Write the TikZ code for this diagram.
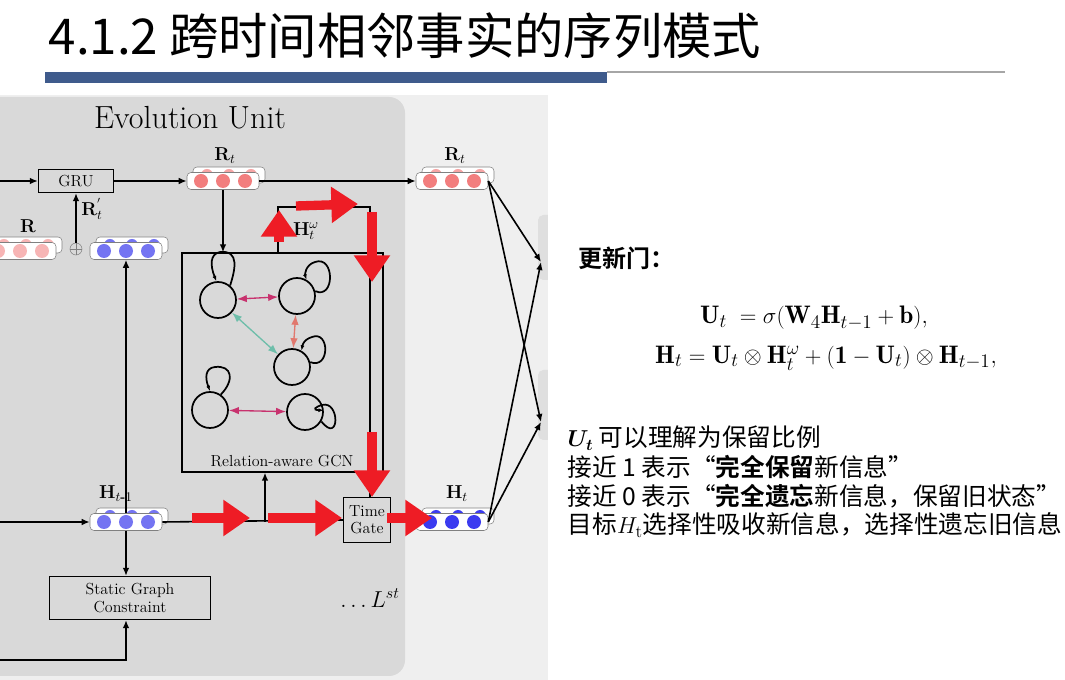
\documentclass[tikz,border=0pt]{standalone}
\usepackage{fontspec}
\usepackage{amsmath}
\newfontfamily\cjk{Noto Sans CJK SC}
\newfontfamily\cjkb{Noto Sans CJK SC Bold}
\usetikzlibrary{arrows.meta,calc}
\definecolor{panel}{HTML}{D9D9D9}
\definecolor{outer}{HTML}{EFEFEF}
\definecolor{titlebar}{HTML}{3F5B8C}
\definecolor{redv}{HTML}{F27E7E}
\definecolor{redvl}{HTML}{F7B5B5}
\definecolor{bluev}{HTML}{7474F2}
\definecolor{bluevd}{HTML}{3B3BF0}
\definecolor{bigred}{HTML}{EE1C25}
\newcommand\embvec[4]{% name, pos, fill, back fill
  \begin{scope}[shift={#2}]
    \draw[gray,fill=white,rounded corners=3] (-30,-14) rectangle (42,2);
    \foreach \dx in {-16,6,28} \fill[#4] (\dx,-6) circle (6);
    \node[draw=gray,fill=white,rounded corners=3,minimum width=54pt,minimum height=12.75pt,inner sep=0] (#1) at (0,0) {};
    \foreach \dx in {-22,0,22} \fill[#3] (\dx,0) circle (7);
  \end{scope}}
\begin{document}
\begin{tikzpicture}[x=0.75pt,y=-0.75pt,
  box/.style={draw,line width=1.2pt,inner sep=0,font=\rmfamily},
  ar/.style={-{Latex[length=6pt,width=5pt]},line width=1.2pt},
  ln/.style={line width=1.2pt},
  big/.style={bigred,line width=7pt,-{Triangle[length=20pt,width=26pt]}},
  gc/.style={circle,draw,line width=1.3pt,minimum size=27pt,inner sep=0},
  lp/.style={line width=1.3pt,-{Latex[length=4pt]}},
  lab/.style={font=\bfseries\fontsize{14}{14}\selectfont},
  cjkt/.style={font=\cjk\fontsize{18.5}{22}\selectfont,anchor=west}]
\useasboundingbox (0,0) rectangle (1065,680);
\fill[white] (0,0) rectangle (1065,680);
% title
\node[anchor=west,font=\cjk\fontsize{37}{44}\selectfont] (title) at (44,36) {4.1.2 跨时间相邻事实的序列模式};
\fill[titlebar] (45,72) rectangle (607,83);
\draw[gray!70,line width=0.8pt] (607,72) -- (1005,72);
% panels
\fill[outer] (0,95) rectangle (548,680);
\fill[gray!25,rounded corners=4] (538,215) rectangle (556,280);
\fill[gray!25,rounded corners=4] (538,370) rectangle (556,440);
\fill[white] (548,95) rectangle (562,680);
\fill[panel,rounded corners=12] (-20,97) rectangle (405,676);
\node[font=\rmfamily\fontsize{24}{28}\selectfont] (evo) at (190,118) {Evolution Unit};
% boxes
\node[box,minimum width=56pt,minimum height=17pt,font=\rmfamily\fontsize{12}{14}\selectfont] (gru) at (76,181) {GRU};
\node[box,minimum width=151pt,minimum height=164pt] (gcn) at (282.5,362.5) {};
\node[font=\rmfamily\fontsize{12}{14}\selectfont] (gcnl) at (282,461) {Relation-aware GCN};
\node[box,minimum width=35pt,minimum height=34pt,align=center,font=\rmfamily\fontsize{12}{13}\selectfont] (tg) at (367,520) {Time\\Gate};
\node[box,minimum width=121pt,minimum height=32pt,align=center,font=\rmfamily\fontsize{12}{13}\selectfont] (sgc) at (130,598) {Static Graph\\Constraint};
% vectors
\embvec{rt}{(223,181)}{redv}{redv!70}
\embvec{rtout}{(452,181)}{redv}{redv!70}
\embvec{r}{(20,251)}{redvl}{redvl}
\embvec{bv}{(126,251)}{bluev}{bluev}
\embvec{hprev}{(126,522)}{bluev}{bluev}
\embvec{ht}{(452,522)}{bluevd}{bluevd}
\node[lab] (rtl) at (225,156) {R$_t$};
\node[lab] (rtoutl) at (455,156) {R$_t$};
\node[lab] (rl) at (28,226) {R};
\node[lab] (hpl) at (116,494) {H$_{t\text{-}1}$};
\node[lab] (htl) at (457,494) {H$_t$};
\node[lab] (rpl) at (92,209) {R$_t^{'}$};
\node[lab] (hwl) at (306,231) {H$_t^{\omega}$};
\node[font=\fontsize{18}{18}\selectfont] (lst) at (370,598) {$\ldots L^{st}$};
\node[circle,draw=gray,inner sep=0,minimum size=9pt,fill=panel] (op) at (76,249) {};
\draw[gray] (op.north)--(op.south) (op.west)--(op.east);
% black connectors
\coordinate (inl) at (0,181);
\draw[ar] (inl) -- (gru);
\draw[ar] (gru) -- (rt.west);
\draw[ar] (rt.east) -- (rtout.west);
\draw[ar] (op.north) -- (gru.south);
\draw[ar] (rt.south) -- (rt.south |- gcn.north);
\draw[ar] (hprev.north) -- (bv.south);
\coordinate (inh) at (0,522);
\draw[ar] (inh) -- (hprev.west);
\draw[ln] (hprev.east) -- (tg.west);
\coordinate (jn) at (265,522);
\draw[ar] (jn) -- (jn |- gcn.south);
\draw[ar] (hprev.south) -- (hprev.south |- sgc.north);
\coordinate (inb) at (0,660);
\draw[ar] (inb) -- (inb -| hprev.south) -- (hprev.south |- sgc.south);
\coordinate (g1) at (278,207); \coordinate (g2) at (370,207);
\draw[ln] (278,253) -- (g1) -- (g2) -- (tg.north -| g2);
\draw[ar] (tg.east) -- (ht.west);
\coordinate (o1) at (541,262); \coordinate (o2) at (541,422);
\draw[ar] (rtout.east) -- (o1);
\draw[ar] (rtout.east) -- (o2);
\draw[ar] (ht.east) -- (o1);
\draw[ar] (ht.east) -- (o2);
% GCN graph
\node[gc] (n1) at (218,300) {};
\node[gc] (n2) at (297,296) {};
\node[gc] (n3) at (292,367) {};
\node[gc] (n4) at (210,410) {};
\node[gc] (n5) at (305,412) {};
\draw[lp] (n1.50) .. controls (235,270) and (240,250) .. (220,252) .. controls (210,254) and (210,265) .. (n1.95);
\draw[lp] (n2.15) .. controls (335,300) and (335,255) .. (315,262) .. controls (305,265) and (305,275) .. (n2.60);
\draw[lp] (n3.15) .. controls (330,370) and (330,330) .. (312,337) .. controls (302,340) and (302,348) .. (n3.60);
\draw[lp] (n4.55) .. controls (235,380) and (232,365) .. (215,367) .. controls (205,368) and (205,378) .. (n4.90);
\draw[lp] (n5.-30) .. controls (340,445) and (340,400) .. (322,405) .. controls (315,407) and (312,410) .. (n5.5);
\draw[<->,>=Latex,line width=1pt,color={rgb,255:red,200;green,50;blue,110}] (n1) -- (n2);
\draw[<->,>=Latex,line width=1pt,color={rgb,255:red,200;green,50;blue,110}] (n4) -- (n5);
\draw[<->,>=Latex,line width=1pt,color={rgb,255:red,110;green,190;blue,170}] (n1) -- (n3);
\draw[<->,>=Latex,line width=1pt,color={rgb,255:red,225;green,120;blue,110}] (n2) -- (n3);
% big red arrows
\draw[big] (192,518) -- (250,518);
\draw[big] (268,518) -- (342,518);
\draw[big] (387,518) -- (432,518);
\draw[big] (279,242) -- (279,210);
\draw[big] (296,206) -- (358,204);
\draw[big] (372,212) -- (372,282);
\draw[big] (372,432) -- (372,497);
% right text
\node[anchor=west,font=\cjkb\fontsize{18}{22}\selectfont] (upd) at (574,258) {更新门：};
\node[font=\fontsize{19}{22}\selectfont] (eq1) at (814,318) {$\mathbf{U}_t \;=\sigma(\mathbf{W}_4\mathbf{H}_{t-1}+\mathbf{b}),$};
\node[font=\fontsize{19}{22}\selectfont] (eq2) at (826,358) {$\mathbf{H}_t=\mathbf{U}_t\otimes\mathbf{H}_t^{\omega}+(\mathbf{1}-\mathbf{U}_t)\otimes\mathbf{H}_{t-1},$};
\node[cjkt] (l1) at (563,438) {$\boldsymbol{U_t}$ 可以理解为保留比例};
\node[cjkt] (l2) at (563,467) {接近 1 表示“{\cjkb 完全保留}新信息”};
\node[cjkt] (l3) at (563,496) {接近 0 表示“{\cjkb 完全遗忘}新信息，保留旧状态”};
\node[cjkt] (l4) at (563,525) {目标$H_{\mathrm{t}}$选择性吸收新信息，选择性遗忘旧信息};
\end{tikzpicture}
\end{document}
